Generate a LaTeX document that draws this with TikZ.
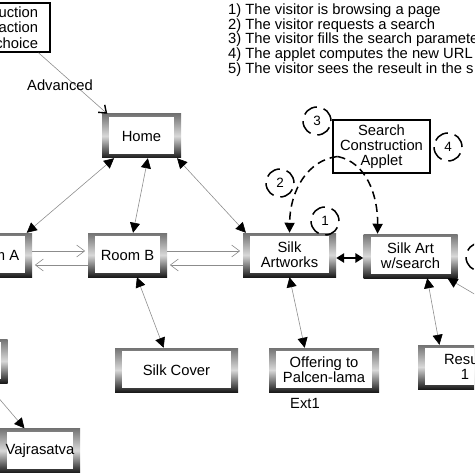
\documentclass[tikz,border=0pt]{standalone}
\usepackage{fontspec}
\setmainfont{Liberation Sans}
\usepackage{tikz}
\usetikzlibrary{calc,arrows.meta}
\newcommand{\pix}{0.3mm}
\newcommand{\linkcolor}{black!45}
\newcommand{\labelfont}{\fontsize{12.6pt}{13pt}\selectfont}
\tikzset{
  bigtip/.tip={Triangle[length=3mm,width=3mm,color=black,fill=black]},
  room/.style={rectangle, top color=black!55, bottom color=black!90, middle color=black!15,
    minimum width=79*\pix, minimum height=44*\pix, inner xsep=1pt, align=center, font=\labelfont,
    path picture={\fill[white] ([shift={(7,3)}]path picture bounding box.north west) rectangle ([shift={(-7,-4)}]path picture bounding box.south east);}},
  plainbox/.style={rectangle, draw, line width=1.4pt, align=center, font=\labelfont},
  link/.style={draw=\linkcolor, line width=0.5pt, bigtip-bigtip},
  twoway/.style={draw=\linkcolor, line width=0.5pt, shorten >=0.8mm, -{Straight Barb[length=2.4mm,width=3.6mm]}},
  phase/.style={circle, draw, line width=1.3pt, dash pattern=on 4.5mm off 2.1mm, minimum size=28*\pix, inner sep=0pt, font=\fontsize{11.5pt}{12pt}\selectfont},
  applink/.style={line width=1.3pt, dash pattern=on 2.4mm off 1.5mm, -bigtip},
}

\begin{document}
\begin{tikzpicture}[x=\pix, y=-\pix]
\useasboundingbox (0,0) rectangle (474,474);
\clip (0,0) rectangle (474,474);
% pages
\node[room] (home) at (141.5,136) {Home};
\node[room] (roomA) at (-7.5,255) {Room A};
\node[room] (roomB) at (127.5,255) {Room B};
\node[room, minimum width=93*\pix] (artworks) at (289.5,255) {Silk\\Artworks};
\node[room, minimum width=94*\pix] (search) at (410.5,256) {Silk Art\\w/search};
\node[room] (roomC) at (-32,361) {};
\node[room, minimum width=123*\pix] (cover) at (176.5,370) {Silk Cover};
\node[room, minimum width=110*\pix] (offering) at (324,370) {Offering to\\Palcen-lama};
\node[room, minimum width=94*\pix] (result) at (465,367) {Result\\1};
\node[room, minimum width=80*\pix] (vajra) at (40,450.5) {Vajrasatva};
% plain boxes
\node[plainbox, minimum width=97*\pix, minimum height=53*\pix] (applet) at (381.5,146.5) {Search\\Construction\\Applet};
\node[plainbox, align=right, text width=80*\pix, inner xsep=12*\pix, minimum height=49*\pix] (choice) at (-2,27.5) {uction\\action\\choice};
% legend
\node[anchor=north west, inner sep=0pt, align=left, font=\fontsize{12.6pt}{12.4pt}\selectfont] (legend) at (228,4) {1) The visitor is browsing a page\\2) The visitor requests a search\\3) The visitor fills the search parameters\\4) The applet computes the new URL\\5) The visitor sees the reseult in the s};
% links
\draw[draw=\linkcolor, line width=0.5pt, -{Straight Barb[length=2mm,width=3mm,color=black,line width=1.2pt]}] (choice.-32) -- (home.147);
\node[font=\labelfont] (advanced) at (60,85) {Advanced};
\draw[link] (roomA.33) -- (home.-141);
\draw[link] (roomB.76) -- (home.-74);
\draw[link] (artworks.153) -- (home.-32);
\draw[link] (roomB.-67) -- (cover.120);
\draw[link] (artworks.south) -- (offering.131);
\draw[link] (search.-53) -- (result.139);
\draw[link] (roomC.-51) -- (vajra.125);
\coordinate (offright) at (505,312);
\draw[draw=\linkcolor, line width=0.5pt, -bigtip] (offright) -- (search.-31);
\draw[twoway] ($(roomA.east)+(0,-4)$) -- ($(roomB.west)+(0,-4)$);
\draw[twoway] ($(roomB.west)+(0,10)$) -- ($(roomA.east)+(0,10)$);
\draw[twoway] ($(roomB.east)+(0,-4)$) -- ($(artworks.west)+(0,-4)$);
\draw[twoway] ($(artworks.west)+(0,10)$) -- ($(roomB.east)+(0,10)$);
\draw[line width=2pt, {Triangle[length=2.4mm,width=2.8mm]}-{Triangle[length=2.4mm,width=2.8mm]}] ($(artworks.east)+(0,3)$) -- ($(search.west)+(0,2)$);
\node[font=\labelfont] (ext1) at (305,403) {Ext1};
% applet
\coordinate (fork) at ($(applet.center)+(-44,10)$);
\draw[applink] (fork) .. controls (308,160) and (290,190) .. (artworks.north);
\draw[applink] (fork) .. controls (366,162) and (378,195) .. (search.146);
% steps
\node[phase] (p1) at (325,221) {1};
\node[phase] (p2) at (280,183) {2};
\node[phase] (p3) at (317,121) {3};
\node[phase] (p4) at (448,147) {4};
\node[phase] (p5) at (480,257) {5};
\end{tikzpicture}
\end{document}
